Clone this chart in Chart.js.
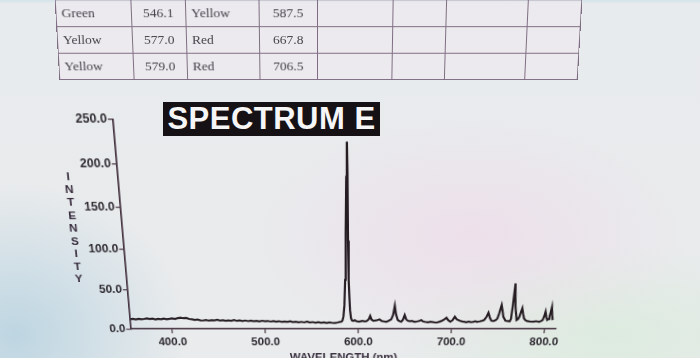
<!DOCTYPE html>
<html>
<head>
<meta charset="utf-8">
<script src="https://cdn.jsdelivr.net/npm/chart.js@4.4.1/dist/chart.umd.min.js"></script>
<style>
  html, body { margin:0; padding:0; width:700px; height:358px; overflow:hidden; }
  body {
    position:relative;
    background:
      radial-gradient(ellipse 170px 150px at 15px 335px, rgba(182,210,224,0.85), rgba(182,210,224,0) 100%),
      radial-gradient(ellipse 220px 120px at 470px 235px, rgba(240,214,232,0.55), rgba(240,214,232,0) 100%),
      radial-gradient(ellipse 220px 90px at 610px 335px, rgba(212,236,214,0.6), rgba(212,236,214,0) 100%),
      linear-gradient(180deg, #d3e4ea 0px, #e8ebed 4px, #e9ebec 100%);
    font-family: "Liberation Sans", Arial, sans-serif;
  }
  #tbl {
    position:absolute; left:56.5px; top:-1px;
    border-collapse:collapse;
    transform-origin: 260.75px 41px;
    transform: perspective(800px) rotateX(-10deg);
    background: rgba(238,233,238,0.55);
  }
  #tbl td {
    border:1px solid #7f6e83;
    font-family:"Liberation Serif","Times New Roman",serif;
    font-size:13.5px; color:#45414a;
    padding:0; height:26px; box-sizing:border-box;
    white-space:nowrap;
  }
  #tbl td.l { text-align:left; padding-left:5px; }
  #tbl td.c { text-align:center; }
  #title {
    position:absolute; left:163px; top:102px; width:217px; height:34px;
    background:#151115; color:#f6f6f6;
    font: bold 31px "Liberation Sans", Arial, sans-serif;
    letter-spacing:0.5px; line-height:34px; text-align:center;
  }
  #wrap {
    position:absolute; left:0; top:90px; width:620px; height:300px;
    transform-origin: 347px 134px;
    transform: perspective(800px) rotateX(-17deg);
  }
  #wrap canvas { position:absolute; left:0; top:0; }
  #ylab {
    position:absolute; left:66px; top:78.5px; width:14px;
    font: bold 11.5px "Liberation Sans", Arial, sans-serif;
    color:#35293a; text-align:center; line-height:13.44px;
  }
</style>
</head>
<body>
<table id="tbl"></table>
<div id="title">SPECTRUM E</div>
<div id="wrap">
  <canvas id="c" width="620" height="300" style="width:620px;height:300px"></canvas>
  <div id="ylab"></div>
</div>
<script>
// ---- table content ----
const colNames = ['Green','Yellow','Yellow'];
const colWave1 = ['546.1','577.0','579.0'];
const colNames2 = ['Yellow','Red','Red'];
const colWave2 = ['587.5','667.8','706.5'];
const emptyCols = 4;

// ---- chart data ----
const wavelength = [
356,359,362,365,368,371,374,377,380,383,386,389,392,395,398,401,404,407,410,413,
416,419,422,425,428,431,434,437,440,443,446,449,452,455,458,461,464,467,470,473,
476,479,482,485,488,491,494,497,500,503,506,509,512,515,518,521,524,527,530,533,
536,539,542,545,548,551,554,557,560,563,566,569,572,575,578,580,582,583,584,585,
585.8,586.4,587,587.6,588.2,588.8,589.5,590.3,591,592,593,594.5,596,598,601,604,607,609,611,612.5,
614,616,619,622.5,625,627,629.7,632,635,637,638.6,640,642,644,645.7,647.5,649.3,651,652.8,655,
657,660,663,665,667.2,669,671,674.3,677,680,683.3,686,688.6,691,692.5,694,696,698.3,700.5,702.9,
705,708.3,711,713,715.4,718,720,722.5,725,727,729.7,732,734.3,736.5,738.6,740.5,742.2,744.5,746.8,748.5,
750,751.2,752.2,753.3,754.7,757.2,759.5,761.8,763,764,765.4,766.9,769,770.5,771.8,773,774.4,775.6,776.9,778.5,
780.4,783,786.8,790,793.2,795,796.9,798.2,799.4,800.6,801.8,803,804,805,805.8,806.7,807.6
];
const intensity = [
12.4,12.9,12.1,13.0,12.3,12.8,13.4,12.6,13.1,12.2,12.9,12.4,13.3,12.5,12.9,13.5,12.8,13.9,14.3,13.7,
14.1,12.8,12.3,11.6,12.1,11.0,10.8,11.5,10.6,11.3,10.9,11.7,10.8,11.2,10.4,11.0,10.5,11.4,10.3,10.9,
10.2,10.8,10.0,10.6,9.8,10.4,9.6,10.5,9.9,10.2,9.4,10.1,9.2,9.9,9.0,9.6,8.9,9.8,8.7,9.3,
8.4,9.1,8.3,9.4,8.2,8.8,7.9,8.6,7.8,8.3,7.5,8.4,7.7,7.6,8.3,8.9,9.4,11,16,30,
62,120,185,225,190,110,62,40,24,14,10.8,10.2,11.2,9.8,9.3,10.4,9.6,10.3,12.4,16.6,
12.0,10.3,10.9,12.2,10.1,9.7,9.0,10.2,12.2,18,29.6,19,11.4,10.0,9.3,11.8,17.8,12.3,10.5,9.8,
10.4,9.0,9.7,10.3,11.4,9.6,9.1,8.5,9.3,8.6,8.0,9.0,10.1,11.6,12.8,14.4,11.2,9.3,11.0,15.6,
12.4,10.5,9.6,9.2,8.5,9.4,8.8,9.0,9.8,9.1,9.7,10.4,11.4,15,20.8,14,10.5,10.2,11.4,13.5,
19.6,26,30.5,24,15.6,10.5,10.1,9.7,13,29,57.8,29,11.4,12.5,15.6,21,26.4,19,13.5,11.2,
10.1,9.6,9.3,9.9,9.0,9.8,11.4,16,22,15,11.4,12.5,15.8,22,27.6,18,11.4
];
const xTicks = [400, 500, 600, 700, 800];
const yTicks = [0, 50, 100, 150, 200, 250];
const yTitleText = 'INTENSITY';
const xTitleText = 'WAVELENGTH (nm)';

// ---- build table ----
const colWidths = [74.5, 54.5, 73, 57.5, 75, 53, 81, 53];
const rowHeights = [27, 27.2, 26.8];
const tbl = document.getElementById('tbl');
for (let r = 0; r < colNames.length; r++) {
  const tr = document.createElement('tr');
  const cells = [[colNames[r],'l'],[colWave1[r],'c'],[colNames2[r],'l'],[colWave2[r],'c']];
  for (let k = 0; k < emptyCols; k++) cells.push(['','c']);
  cells.forEach((cdef, i) => {
    const td = document.createElement('td');
    td.textContent = cdef[0];
    td.className = cdef[1];
    td.style.width = colWidths[i] + 'px';
    td.style.height = rowHeights[r] + 'px';
    tr.appendChild(td);
  });
  tbl.appendChild(tr);
}

// ---- vertical y title ----
const ylab = document.getElementById('ylab');
yTitleText.split('').forEach(ch => {
  const d = document.createElement('div');
  d.textContent = ch;
  ylab.appendChild(d);
});

// ---- chart ----
const axisColor = '#44323f';
const tickFont = { family: '"Liberation Sans", Arial, sans-serif', size: 12, weight: 'bold' };

new Chart(document.getElementById('c').getContext('2d'), {
  type: 'line',
  data: {
    datasets: [{
      data: wavelength.map((x, i) => ({ x: x, y: intensity[i] })),
      borderColor: '#261d23',
      borderWidth: 2.2,
      pointRadius: 0,
      tension: 0,
      fill: false
    }]
  },
  options: {
    responsive: false,
    animation: false,
    devicePixelRatio: 1,
    layout: { padding: { left: 0, top: 28.48, right: 55.25, bottom: 0 } },
    plugins: { legend: { display: false }, tooltip: { enabled: false }, title: { display: false } },
    scales: {
      x: {
        type: 'linear',
        min: 356.13,
        max: 812,
        afterFit(s) { s.height = 51.74; },
        afterBuildTicks(s) { s.ticks = xTicks.map(v => ({ value: v })); },
        ticks: {
          callback: v => Number(v).toFixed(1),
          font: tickFont, color: '#2e2a31', padding: 3,
          maxRotation: 0, autoSkip: false
        },
        grid: { drawOnChartArea: false, drawTicks: true, tickLength: 5, color: axisColor, lineWidth: 1.2 },
        border: { display: true, color: axisColor, width: 1.7 },
        title: {
          display: true, text: xTitleText,
          font: { family: '"Liberation Sans", Arial, sans-serif', size: 12, weight: 'bold' },
          color: '#3a3040',
          padding: { top: 0, bottom: 11.5 }
        }
      },
      y: {
        min: 0,
        max: 250,
        afterFit(s) { s.width = 122.1; },
        afterBuildTicks(s) { s.ticks = yTicks.map(v => ({ value: v })); },
        ticks: {
          callback: v => Number(v).toFixed(1),
          font: tickFont, color: '#2e2a31', padding: 1, autoSkip: false
        },
        grid: { drawOnChartArea: false, drawTicks: true, tickLength: 5, color: axisColor, lineWidth: 1.2 },
        border: { display: true, color: axisColor, width: 1.7 }
      }
    }
  }
});
</script>
</body>
</html>
